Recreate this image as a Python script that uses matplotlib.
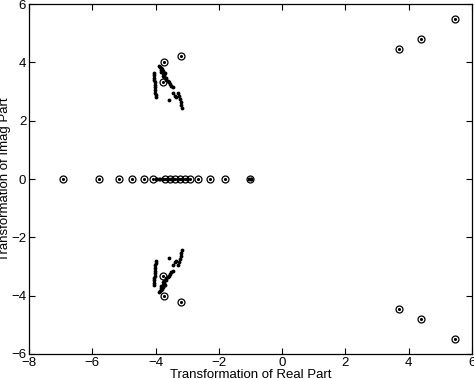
import matplotlib
matplotlib.use("Agg")
import matplotlib.pyplot as plt
import numpy as np

plt.rcParams['font.family'] = ['Liberation Sans', 'DejaVu Sans']

# circled points (upper half + real axis); lower half are conjugates
real_axis_circles = [-6.93, -5.79, -5.16, -4.75, -4.37, -4.07, -3.70, -3.54,
                     -3.39, -3.23, -3.07, -2.91, -2.65, -2.28, -1.81, -1.02]
upper_circle_re = [-3.72, -3.20, -3.75, 3.69, 4.39, 5.46]
upper_circle_im = [4.02, 4.23, 3.34, 4.46, 4.80, 5.49]

# small dots (upper cluster); lower cluster mirrored
dots_re = [-4.05, -4.05, -4.04, -4.04, -4.03, -4.03, -4.02, -4.02, -4.01, -4.00, -4.00,
           -3.88, -3.85, -3.82, -3.80, -3.78, -3.82, -3.76, -3.72, -3.78, -3.74, -3.68,
           -3.80, -3.76, -3.70, -3.84, -3.66, -3.62, -3.58, -3.54, -3.50, -3.46,
           -3.58, -3.44, -3.40, -3.36, -3.28, -3.25, -3.23, -3.21, -3.19, -3.17]
dots_im = [3.64, 3.56, 3.48, 3.40, 3.32, 3.24, 3.14, 3.06, 2.96, 2.88, 2.80,
           3.88, 3.84, 3.80, 3.76, 3.70, 3.66, 3.62, 3.58, 3.54, 3.50, 3.46,
           3.72, 3.68, 3.64, 3.74, 3.40, 3.36, 3.32, 3.26, 3.20, 3.14,
           2.70, 2.94, 2.86, 2.80, 2.96, 2.84, 2.74, 2.64, 2.54, 2.44]
# dots on real axis
axis_dots = [-4.00, -3.95, -3.90, -3.85, -3.80, -3.75, -3.65, -3.60, -3.50, -3.45,
             -3.30, -3.15, -3.00, -1.05, -1.00, -0.98]

fig = plt.figure(figsize=(4.74, 3.79), dpi=100)
ax = fig.add_axes([0.0612, 0.066, 0.9346, 0.9234])

cre = np.array(real_axis_circles + upper_circle_re + upper_circle_re)
cim = np.array([0.0] * len(real_axis_circles) + upper_circle_im + [-v for v in upper_circle_im])
ax.plot(cre, cim, 'o', mfc='none', mec='black', ms=5, mew=0.9)
ax.plot(cre, cim, '.', color='black', ms=2.5)

dre = np.array(dots_re + dots_re + axis_dots)
dim = np.array(dots_im + [-v for v in dots_im] + [0.0] * len(axis_dots))
ax.plot(dre, dim, '.', color='black', ms=3.5)

ax.set_xlim(-8, 6)
ax.set_ylim(-6, 6)
ax.set_xticks([-8, -6, -4, -2, 0, 2, 4, 6])
ax.set_yticks([-6, -4, -2, 0, 2, 4, 6])
ax.set_xticklabels(['\u22128', '\u22126', '\u22124', '\u22122', '0', '2', '4', '6'])
ax.set_yticklabels(['\u22126', '\u22124', '\u22122', '0', '2', '4', '6'])
ax.tick_params(direction='in', length=4, width=0.8, labelsize=9.5, top=True, right=True, pad=2)
for s in ax.spines.values():
    s.set_linewidth(0.9)
ax.set_xlabel('Transformation of Real Part', fontsize=9.5, labelpad=0)
ax.set_ylabel('Transformation of Imag Part', fontsize=9.5, labelpad=0)

fig.savefig('out.png', dpi=100)
